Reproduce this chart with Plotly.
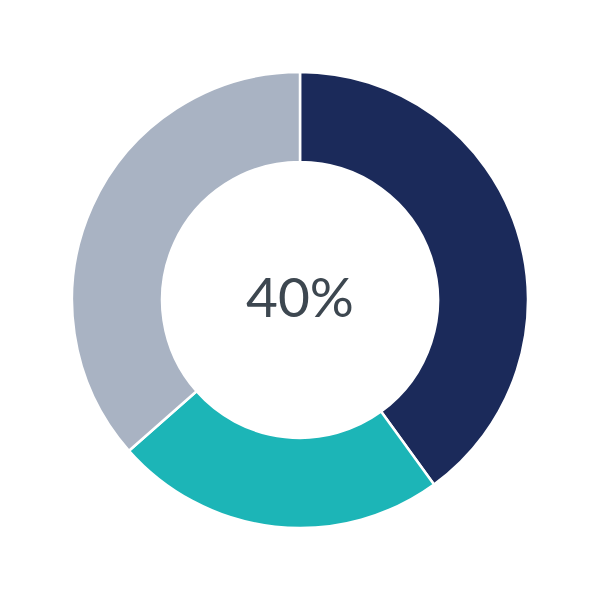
import plotly.graph_objects as go

labels = ["Segment A", "Segment B", "Segment C"]
values = [40, 23.5, 36.5]
colors = ["#1b2a5a", "#1cb5b7", "#a9b3c3"]
center_text = "40%"

fig = go.Figure()
fig.add_trace(
    go.Pie(
        labels=labels,
        values=values,
        hole=0.605,
        sort=False,
        direction="clockwise",
        rotation=0,
        marker=dict(colors=colors, line=dict(color="white", width=2.5)),
        textinfo="none",
        hoverinfo="label+percent",
        showlegend=False,
    )
)

# big number in the middle of the donut
fig.add_annotation(
    text=center_text,
    x=0.5,
    y=0.5,
    xref="paper",
    yref="paper",
    yshift=4,
    showarrow=False,
    font=dict(family="Lato", size=55, color="#3d4750"),
)

# page has an 8px offset, so margins are uneven to keep the ring centred
fig.update_layout(
    width=600,
    height=600,
    margin=dict(l=64, r=80, t=64, b=80),
    paper_bgcolor="white",
    plot_bgcolor="white",
)

fig.write_html("out.html")
